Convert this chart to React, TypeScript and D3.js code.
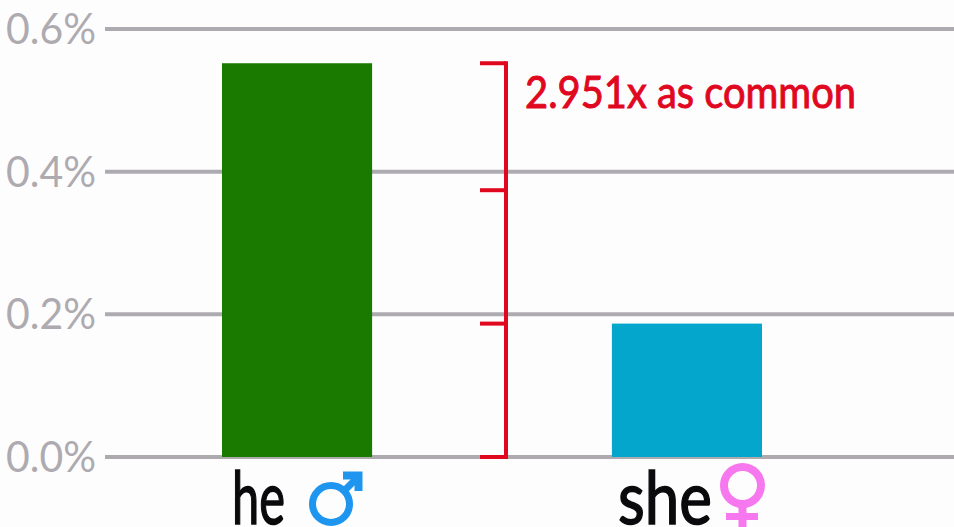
import { useEffect, useRef } from 'react'
import * as d3 from 'd3'

const categories = ['he', 'she']
const values = [0.552, 0.187]
const barColors = ['#1a7a00', '#04a6cc']
const ticks = [0, 0.2, 0.4, 0.6]
// bracket steps are multiples of the "she" bar, the last one is the "he" bar
const bracketValues = [0, 0.187, 0.374, 0.552]
const ratioLabel = '2.951x as common'
const labelStart = [232, 618]
const labelWidth = [53, 94]

const WIDTH = 954
const HEIGHT = 527
const FONT = 'Lato, "Open Sans", sans-serif'
const GRID = '#aeabb0'
const RED = '#e0081e'
const BLUE = '#1e96f0'
const PINK = '#f777ee'
const INK = '#0a0a0c'

export default function App() {
  const svgRef = useRef<SVGSVGElement>(null)

  useEffect(() => {
    if (!svgRef.current) return

    const svg = d3.select(svgRef.current)
    svg.selectAll('*').remove()

    const x = d3.scaleBand<string>()
      .domain(categories)
      .range([222, 762])
      .paddingInner(0.615)
      .paddingOuter(0)

    const y = d3.scaleLinear()
      .domain([0, 0.6])
      .range([457, 29])

    svg.append('rect')
      .attr('width', WIDTH)
      .attr('height', HEIGHT)
      .attr('fill', '#fefdfe')

    // Grid lines and tick labels
    ticks.forEach(t => {
      svg.append('line')
        .attr('x1', 105)
        .attr('x2', WIDTH)
        .attr('y1', y(t))
        .attr('y2', y(t))
        .attr('stroke', GRID)
        .attr('stroke-width', 4)

      svg.append('text')
        .attr('x', 6)
        .attr('y', y(t) + 15)
        .attr('textLength', 90)
        .attr('lengthAdjust', 'spacingAndGlyphs')
        .style('font-family', FONT)
        .style('font-size', '43px')
        .style('fill', GRID)
        .text(`${t.toFixed(1)}%`)
    })

    // Bars
    categories.forEach((c, i) => {
      svg.append('rect')
        .attr('x', x(c)!)
        .attr('y', y(values[i]))
        .attr('width', x.bandwidth())
        .attr('height', y(0) - y(values[i]))
        .attr('fill', barColors[i])
    })

    // Bracket
    const bracketX = 506
    const bracketTop = y(bracketValues[bracketValues.length - 1])
    svg.append('line')
      .attr('x1', bracketX)
      .attr('x2', bracketX)
      .attr('y1', bracketTop - 2)
      .attr('y2', y(0) + 2)
      .attr('stroke', RED)
      .attr('stroke-width', 4)

    bracketValues.forEach(v => {
      svg.append('line')
        .attr('x1', 480)
        .attr('x2', bracketX)
        .attr('y1', y(v))
        .attr('y2', y(v))
        .attr('stroke', RED)
        .attr('stroke-width', 4)
    })

    // stroke thickens the regular weight, bold is too heavy here
    svg.append('text')
      .attr('x', 525)
      .attr('y', 108)
      .attr('textLength', 331)
      .attr('lengthAdjust', 'spacingAndGlyphs')
      .style('font-family', FONT)
      .style('font-size', '45px')
      .style('fill', RED)
      .style('stroke', RED)
      .style('stroke-width', 1)
      .text(ratioLabel)

    // Category labels
    categories.forEach((c, i) => {
      svg.append('text')
        .attr('x', labelStart[i])
        .attr('y', 524)
        .attr('textLength', labelWidth[i])
        .attr('lengthAdjust', 'spacingAndGlyphs')
        .style('font-family', FONT)
        .style('font-size', '74px')
        .style('fill', INK)
        .style('stroke', INK)
        .style('stroke-width', 1.5)
        .text(c)
    })

    // Male symbol
    const male = svg.append('g').attr('fill', 'none').attr('stroke', BLUE).attr('stroke-width', 7)
    male.append('circle').attr('cx', 331).attr('cy', 504).attr('r', 18.5)
    male.append('line').attr('x1', 344).attr('y1', 491).attr('x2', 357).attr('y2', 478)
    male.append('path').attr('d', 'M343,475.5H358.5V491').attr('stroke-width', 8)

    // Female symbol
    const female = svg.append('g').attr('fill', 'none').attr('stroke', PINK).attr('stroke-width', 8)
    female.append('circle').attr('cx', 742.5).attr('cy', 485.5).attr('r', 18.5)
    female.append('line').attr('x1', 742.5).attr('y1', 506).attr('x2', 742.5).attr('y2', 527)
    female.append('line').attr('x1', 726).attr('y1', 516.5).attr('x2', 758).attr('y2', 516.5).attr('stroke-width', 7)
  }, [])

  return (
    <svg
      ref={svgRef}
      width={WIDTH}
      height={HEIGHT}
      style={{ position: 'fixed', left: 0, top: 0, display: 'block' }}
    />
  )
}
